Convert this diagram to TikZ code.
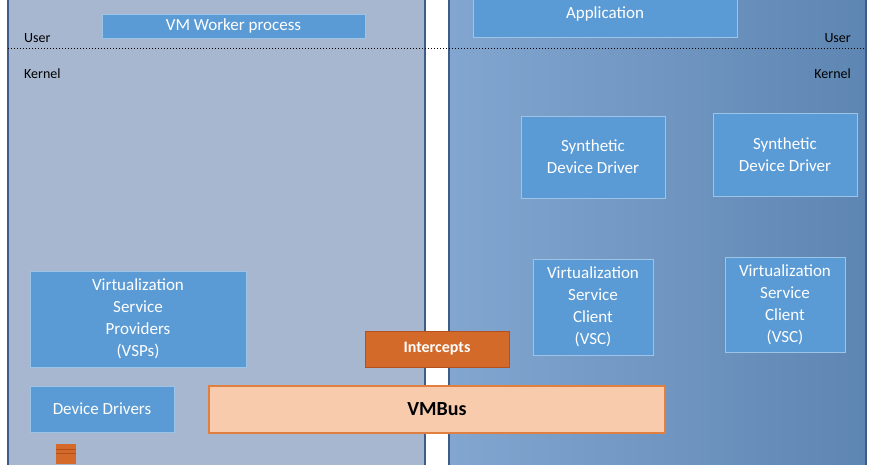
\documentclass[tikz,border=0pt]{standalone}
\usepackage{fontspec}
\setmainfont{Carlito}
\definecolor{boxfill}{HTML}{5B9BD5}
\definecolor{boxedge}{HTML}{9DC3E6}
\definecolor{leftfill}{HTML}{A7B7CF}
\definecolor{paneledge}{HTML}{3E5C86}
\definecolor{rtl}{HTML}{82A6D0}
\definecolor{rbr}{HTML}{5E86B2}
\definecolor{intfill}{HTML}{D46A2A}
\definecolor{intedge}{HTML}{B4501E}
\definecolor{busfill}{HTML}{F8CBAD}
\definecolor{busedge}{HTML}{E07F40}
\begin{document}
\begin{tikzpicture}[x=1pt,y=-1pt,
  bx/.style={draw=boxedge,fill=boxfill,text=white,align=center,font=\fontsize{17}{22}\selectfont,inner sep=0pt,line width=0.8pt},
  lbl/.style={font=\fontsize{14}{16}\selectfont,text=black,inner sep=0pt}]
\useasboundingbox (0,0) rectangle (884,464);
\fill[white] (0,0) rectangle (884,464);
\path[fill=leftfill,draw=paneledge,line width=1.5pt] (8,-5) rectangle (425,470);
\path[shading=axis,shading angle=-45,left color=rtl,right color=rbr,draw=paneledge,line width=1.5pt] (449,-5) rectangle (866,470);
\draw[dotted,line width=1pt] (8,48) -- (866,48);
\node[lbl,anchor=west] (u1) at (24,38) {User};
\node[lbl,anchor=west] (k1) at (24,74) {Kernel};
\node[lbl,anchor=east] (u2) at (851,38) {User};
\node[lbl,anchor=east] (k2) at (851,74) {Kernel};
\node[bx,minimum width=263pt,minimum height=24pt] (vmw) at (233.5,26) {VM Worker process};
\node[bx,minimum width=264pt,minimum height=44pt,anchor=south] (app) at (605,38) {};
\node[text=white,font=\fontsize{17}{20}\selectfont] (apptxt) at (605,14) {Application};
\node[bx,minimum width=144pt,minimum height=82pt] (sdd1) at (593,157) {Synthetic\\Device Driver};
\node[bx,minimum width=144pt,minimum height=83pt] (sdd2) at (785,154.5) {Synthetic\\Device Driver};
\node[bx,minimum width=120pt,minimum height=96pt] (vsc1) at (593,307) {Virtualization\\Service\\Client\\(VSC)};
\node[bx,minimum width=120pt,minimum height=95pt] (vsc2) at (785,304.5) {Virtualization\\Service\\Client\\(VSC)};
\node[bx,minimum width=216pt,minimum height=96pt] (vsp) at (138,319) {Virtualization\\Service\\Providers\\(VSPs)};
\node[bx,minimum width=144pt,minimum height=46pt] (dd) at (102,409) {Device Drivers};
\node[draw=intedge,fill=intfill,text=white,font=\bfseries\fontsize{16}{19}\selectfont,minimum width=144pt,minimum height=36pt,inner sep=0pt] (int) at (437,349) {Intercepts};
\node[draw=busedge,line width=2pt,fill=busfill,font=\bfseries\fontsize{20}{24}\selectfont,minimum width=456pt,minimum height=47pt,inner sep=0pt] (vmbus) at (437,409.5) {VMBus};
\fill[intfill] (56,444) rectangle (76,464);
\draw[intedge,line width=0.6pt] (56,449) -- (76,449) (56,453) -- (76,453);
\end{tikzpicture}
\end{document}
